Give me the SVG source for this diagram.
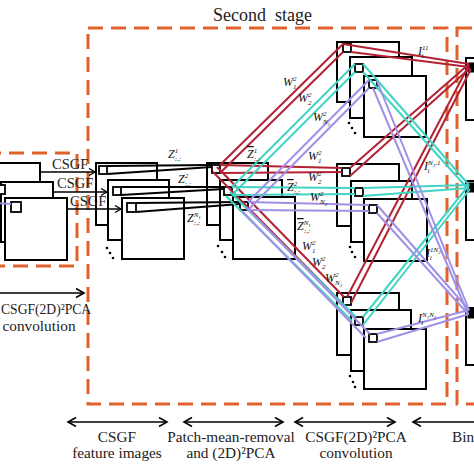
<svg xmlns="http://www.w3.org/2000/svg" width="474" height="474" viewBox="0 0 474 474">
<style>
.bx{fill:#fff;stroke:#000;stroke-width:2}
.sq{fill:#fff;stroke:#000;stroke-width:1.8}
.bk{fill:#000;stroke:#000;stroke-width:1}
.dash{fill:none;stroke:#e0622a;stroke-width:3;stroke-dasharray:15 8}
.k line{stroke:#000;stroke-width:1.8}
.r line{stroke:#b22234;stroke-width:2}
.t line{stroke:#40d4c4;stroke-width:2}
.l line{stroke:#a090e6;stroke-width:2}
.ar{stroke:#000;stroke-width:1.6;fill:none}
.lbl{font-family:"Liberation Serif",serif;font-size:15.3px;fill:#222}
.m{font-family:"Liberation Serif",serif;font-style:italic;font-size:12px;fill:#111}
.s{font-size:7px}
.ss{font-size:5px}
.dot{fill:#000}
</style>
<defs>
<marker id="ah" markerUnits="userSpaceOnUse" markerWidth="12" markerHeight="12" refX="9" refY="5" orient="auto-start-reverse">
<path d="M1,0.5 L9,5 L1,9.5" fill="none" stroke="#000" stroke-width="1.6"/>
</marker>
<marker id="ahs" markerUnits="userSpaceOnUse" markerWidth="10" markerHeight="10" refX="7" refY="4" orient="auto">
<path d="M1,0.5 L7,4 L1,7.5" fill="none" stroke="#000" stroke-width="1.3"/>
</marker>
</defs>
<rect width="474" height="474" fill="#fff"/>

<g id="stage-boxes">
<rect class="dash" x="-60" y="153" width="137" height="113"/>
<rect class="dash" x="88" y="28" width="359" height="376"/>
<rect class="dash" x="457" y="28" width="100" height="376"/>
<text class="lbl" x="213" y="21" style="font-size:18px;white-space:pre">Second  stage</text>
</g>

<g id="first-stage-images">
<rect class="bx" x="-30" y="163" width="70" height="60"/>
<rect class="bx" x="1" y="182" width="52" height="60"/>
<rect class="sq" x="-3" y="185" width="8" height="9"/>
<rect class="bx" x="5" y="198" width="62" height="62"/>
<rect class="sq" x="11" y="202" width="10" height="10"/>
</g>

<g id="csgf-features">
<rect class="bx" x="96" y="163" width="61" height="62"/>
<rect class="sq" x="99" y="166" width="8" height="8"/>
<rect class="bx" x="108" y="180" width="61" height="60"/>
<rect class="sq" x="113" y="187" width="8" height="8"/>
<rect class="bx" x="122" y="198" width="62" height="61"/>
<rect class="sq" x="127" y="203" width="9" height="9"/>
<circle class="dot" cx="107" cy="248" r="1.3"/><circle class="dot" cx="110" cy="253" r="1.3"/><circle class="dot" cx="113" cy="258" r="1.3"/>
</g>

<g id="patch-mean-removal">
<rect class="bx" x="207" y="163" width="61" height="62"/>
<rect class="sq" x="212" y="165" width="8" height="8"/>
<rect class="bx" x="220" y="180" width="62" height="60"/>
<rect class="sq" x="224" y="187" width="8" height="8"/>
<rect class="bx" x="233" y="197" width="62" height="62"/>
<rect class="sq" x="240" y="202" width="8" height="8"/>
<circle class="dot" cx="218" cy="246" r="1.3"/><circle class="dot" cx="222" cy="252" r="1.3"/><circle class="dot" cx="225" cy="257" r="1.3"/>
</g>

<g id="conv-top">
<rect class="bx" x="337" y="42" width="62" height="60"/>
<rect class="sq" x="343" y="44" width="8" height="8"/>
<rect class="bx" x="350" y="57" width="62" height="61"/>
<rect class="sq" x="355" y="64" width="8" height="8"/>
<rect class="bx" x="364" y="76" width="62" height="61"/>
<rect class="sq" x="369" y="80" width="8" height="8"/>
<circle class="dot" cx="349" cy="123" r="1.3"/><circle class="dot" cx="352" cy="128" r="1.3"/><circle class="dot" cx="355" cy="133" r="1.3"/>
</g>

<g id="conv-middle">
<rect class="bx" x="337" y="164" width="62" height="62"/>
<rect class="sq" x="342" y="168" width="8" height="8"/>
<rect class="bx" x="351" y="181" width="61" height="61"/>
<rect class="sq" x="355" y="188" width="8" height="8"/>
<rect class="bx" x="364" y="199" width="63" height="62"/>
<rect class="sq" x="369" y="205" width="8" height="8"/>
<circle class="dot" cx="350" cy="247" r="1.3"/><circle class="dot" cx="352" cy="252" r="1.3"/><circle class="dot" cx="355" cy="257" r="1.3"/>
</g>

<g id="conv-bottom">
<rect class="bx" x="337" y="293" width="62" height="62"/>
<rect class="sq" x="343" y="297" width="8" height="8"/>
<rect class="bx" x="351" y="310" width="60" height="61"/>
<rect class="sq" x="355" y="317" width="8" height="8"/>
<rect class="bx" x="364" y="329" width="62" height="60"/>
<rect class="sq" x="369" y="334" width="8" height="8"/>
<circle class="dot" cx="350" cy="376" r="1.3"/><circle class="dot" cx="353" cy="382" r="1.3"/><circle class="dot" cx="355" cy="387" r="1.3"/>
</g>

<g id="binarization-images">
<rect class="bx" x="466" y="58" width="40" height="62"/>
<rect class="bk" x="468" y="63" width="8" height="9"/>
<rect class="bx" x="466" y="181" width="40" height="59"/>
<rect class="bk" x="468" y="183" width="8" height="9"/>
<rect class="bx" x="466" y="308" width="40" height="57"/>
<rect class="bk" x="468" y="309" width="8" height="9"/>
</g>

<g id="connectors">
<g class="l"><line x1="-5" y1="203" x2="11" y2="204"/></g>
<g class="ar">
<line x1="40" y1="172" x2="95" y2="172" marker-end="url(#ahs)"/>
<line x1="53" y1="192" x2="107" y2="192" marker-end="url(#ahs)"/>
<line x1="67" y1="209" x2="121" y2="209" marker-end="url(#ahs)"/>
</g>
<g class="k">
<line x1="107" y1="166" x2="212" y2="165"/>
<line x1="107" y1="174" x2="212" y2="167"/>
<line x1="121" y1="187" x2="224" y2="187"/>
<line x1="121" y1="195" x2="224" y2="189"/>
<line x1="136" y1="203" x2="240" y2="202"/>
<line x1="136" y1="212" x2="240" y2="204"/>
</g>
<g class="r">
<line x1="220" y1="165" x2="343" y2="44"/>
<line x1="220" y1="173" x2="343" y2="52"/>
<line x1="220" y1="165" x2="342" y2="168"/>
<line x1="220" y1="173" x2="342" y2="172"/>
<line x1="217" y1="167" x2="344" y2="297"/>
<line x1="213" y1="172" x2="341" y2="302"/>
<line x1="343" y1="44" x2="469" y2="64"/>
<line x1="351" y1="52" x2="469" y2="67"/>
<line x1="350" y1="168" x2="469" y2="64"/>
<line x1="350" y1="176" x2="470" y2="68"/>
<line x1="347" y1="297" x2="469" y2="65"/>
<line x1="351" y1="303" x2="471" y2="69"/>
</g>
<g class="t">
<line x1="232" y1="187" x2="355" y2="64"/>
<line x1="232" y1="195" x2="355" y2="72"/>
<line x1="232" y1="187" x2="355" y2="188"/>
<line x1="232" y1="195" x2="355" y2="194"/>
<line x1="230" y1="192" x2="356" y2="317"/>
<line x1="226" y1="196" x2="352" y2="321"/>
<line x1="363" y1="64" x2="469" y2="185"/>
<line x1="363" y1="72" x2="468" y2="189"/>
<line x1="363" y1="188" x2="469" y2="185"/>
<line x1="363" y1="196" x2="469" y2="188"/>
<line x1="363" y1="317" x2="469" y2="185"/>
<line x1="363" y1="325" x2="470" y2="189"/>
</g>
<g class="l">
<line x1="248" y1="202" x2="369" y2="80"/>
<line x1="248" y1="210" x2="369" y2="88"/>
<line x1="248" y1="202" x2="369" y2="205"/>
<line x1="248" y1="210" x2="369" y2="211"/>
<line x1="246" y1="207" x2="370" y2="334"/>
<line x1="242" y1="211" x2="366" y2="338"/>
<line x1="377" y1="81" x2="469" y2="310"/>
<line x1="373" y1="88" x2="468" y2="314"/>
<line x1="377" y1="205" x2="469" y2="310"/>
<line x1="377" y1="213" x2="468" y2="314"/>
<line x1="377" y1="334" x2="469" y2="310"/>
<line x1="377" y1="342" x2="469" y2="314"/>
</g>
<g class="ar">
<line x1="-20" y1="293" x2="84" y2="293" marker-end="url(#ah)"/>
<line x1="68" y1="422" x2="167" y2="422" marker-start="url(#ah)" marker-end="url(#ah)"/>
<line x1="184" y1="422" x2="283" y2="422" marker-start="url(#ah)" marker-end="url(#ah)"/>
<line x1="295" y1="422" x2="395" y2="422" marker-start="url(#ah)" marker-end="url(#ah)"/>
<line x1="413" y1="422" x2="500" y2="422" marker-start="url(#ah)"/>
</g>
</g>

<g id="labels">
<text class="lbl" x="52" y="169" style="font-size:14.5px">CSGF</text>
<text class="lbl" x="57" y="188" style="font-size:14.5px">CSGF</text>
<text class="lbl" x="70" y="206" style="font-size:14.5px">CSGF</text>
<text class="lbl" x="1" y="314" style="font-size:13.6px">CSGF(2D)²PCA</text>
<text class="lbl" x="39" y="331" text-anchor="middle">convolution</text>
<text class="lbl" x="117" y="442" text-anchor="middle">CSGF</text>
<text class="lbl" x="117" y="458" text-anchor="middle">feature images</text>
<text class="lbl" x="231" y="442" text-anchor="middle">Patch-mean-removal</text>
<text class="lbl" x="231" y="458" text-anchor="middle">and (2D)²PCA</text>
<text class="lbl" x="356" y="442" text-anchor="middle">CSGF(2D)²PCA</text>
<text class="lbl" x="356" y="458" text-anchor="middle">convolution</text>
<text class="lbl" x="452" y="442">Bin</text>

<text class="m" x="168" y="158">Z<tspan class="s" dy="-5">1</tspan><tspan class="s" dx="-3.5" dy="8">:,:</tspan></text>
<text class="m" x="178" y="183">Z<tspan class="s" dy="-5">2</tspan><tspan class="s" dx="-3.5" dy="8">:,:</tspan></text>
<text class="m" x="187" y="222">Z<tspan class="s" dy="-5">N</tspan><tspan class="ss" dy="1.5">1</tspan><tspan class="s" dx="-7" dy="6.5">:,:</tspan></text>
<text class="m" x="247" y="158"><tspan text-decoration="overline">Z</tspan><tspan class="s" dy="-5">1</tspan><tspan class="s" dx="-3.5" dy="8">:,:</tspan></text>
<text class="m" x="287" y="191"><tspan text-decoration="overline">Z</tspan><tspan class="s" dy="-5">2</tspan><tspan class="s" dx="-3.5" dy="8">:,:</tspan></text>
<text class="m" x="297" y="230"><tspan text-decoration="overline">Z</tspan><tspan class="s" dy="-5">N</tspan><tspan class="ss" dy="1.5">1</tspan><tspan class="s" dx="-7" dy="6.5">:,:</tspan></text>

<text class="m" x="283" y="86">W<tspan class="s" dy="-5">2</tspan><tspan class="s" dx="-3.5" dy="8">1</tspan></text>
<text class="m" x="298" y="102">W<tspan class="s" dy="-5">2</tspan><tspan class="s" dx="-3.5" dy="8">2</tspan></text>
<text class="m" x="313" y="121">W<tspan class="s" dy="-5">2</tspan><tspan class="s" dx="-3.5" dy="8">N</tspan><tspan class="ss" dy="1.5">2</tspan></text>
<text class="m" x="308" y="160">W<tspan class="s" dy="-5">2</tspan><tspan class="s" dx="-3.5" dy="8">1</tspan></text>
<text class="m" x="308" y="181">W<tspan class="s" dy="-5">2</tspan><tspan class="s" dx="-3.5" dy="8">2</tspan></text>
<text class="m" x="310" y="201">W<tspan class="s" dy="-5">2</tspan><tspan class="s" dx="-3.5" dy="8">N</tspan><tspan class="ss" dy="1.5">2</tspan></text>
<text class="m" x="302" y="250">W<tspan class="s" dy="-5">2</tspan><tspan class="s" dx="-3.5" dy="8">1</tspan></text>
<text class="m" x="312" y="266">W<tspan class="s" dy="-5">2</tspan><tspan class="s" dx="-3.5" dy="8">2</tspan></text>
<text class="m" x="325" y="282">W<tspan class="s" dy="-5">2</tspan><tspan class="s" dx="-3.5" dy="8">N</tspan><tspan class="ss" dy="1.5">2</tspan></text>

<text class="m" x="418" y="55">I<tspan class="s" dy="-5">11</tspan><tspan class="s" dx="-7" dy="8">i</tspan></text>
<text class="m" x="424" y="170">I<tspan class="s" dy="-5">N</tspan><tspan class="ss" dy="1.5">1</tspan><tspan class="s" dy="-1.5">,1</tspan><tspan class="s" dx="-13" dy="8">i</tspan></text>
<text class="m" x="426" y="257">I<tspan class="s" dy="-5">1N</tspan><tspan class="ss" dy="1.5">2</tspan><tspan class="s" dx="-11" dy="6.5">i</tspan></text>
<text class="m" x="418" y="322">I<tspan class="s" dy="-5">N</tspan><tspan class="ss" dy="1.5">1</tspan><tspan class="s" dy="-1.5">N</tspan><tspan class="ss" dy="1.5">2</tspan><tspan class="s" dx="-15" dy="6.5">i</tspan></text>
</g>
</svg>
